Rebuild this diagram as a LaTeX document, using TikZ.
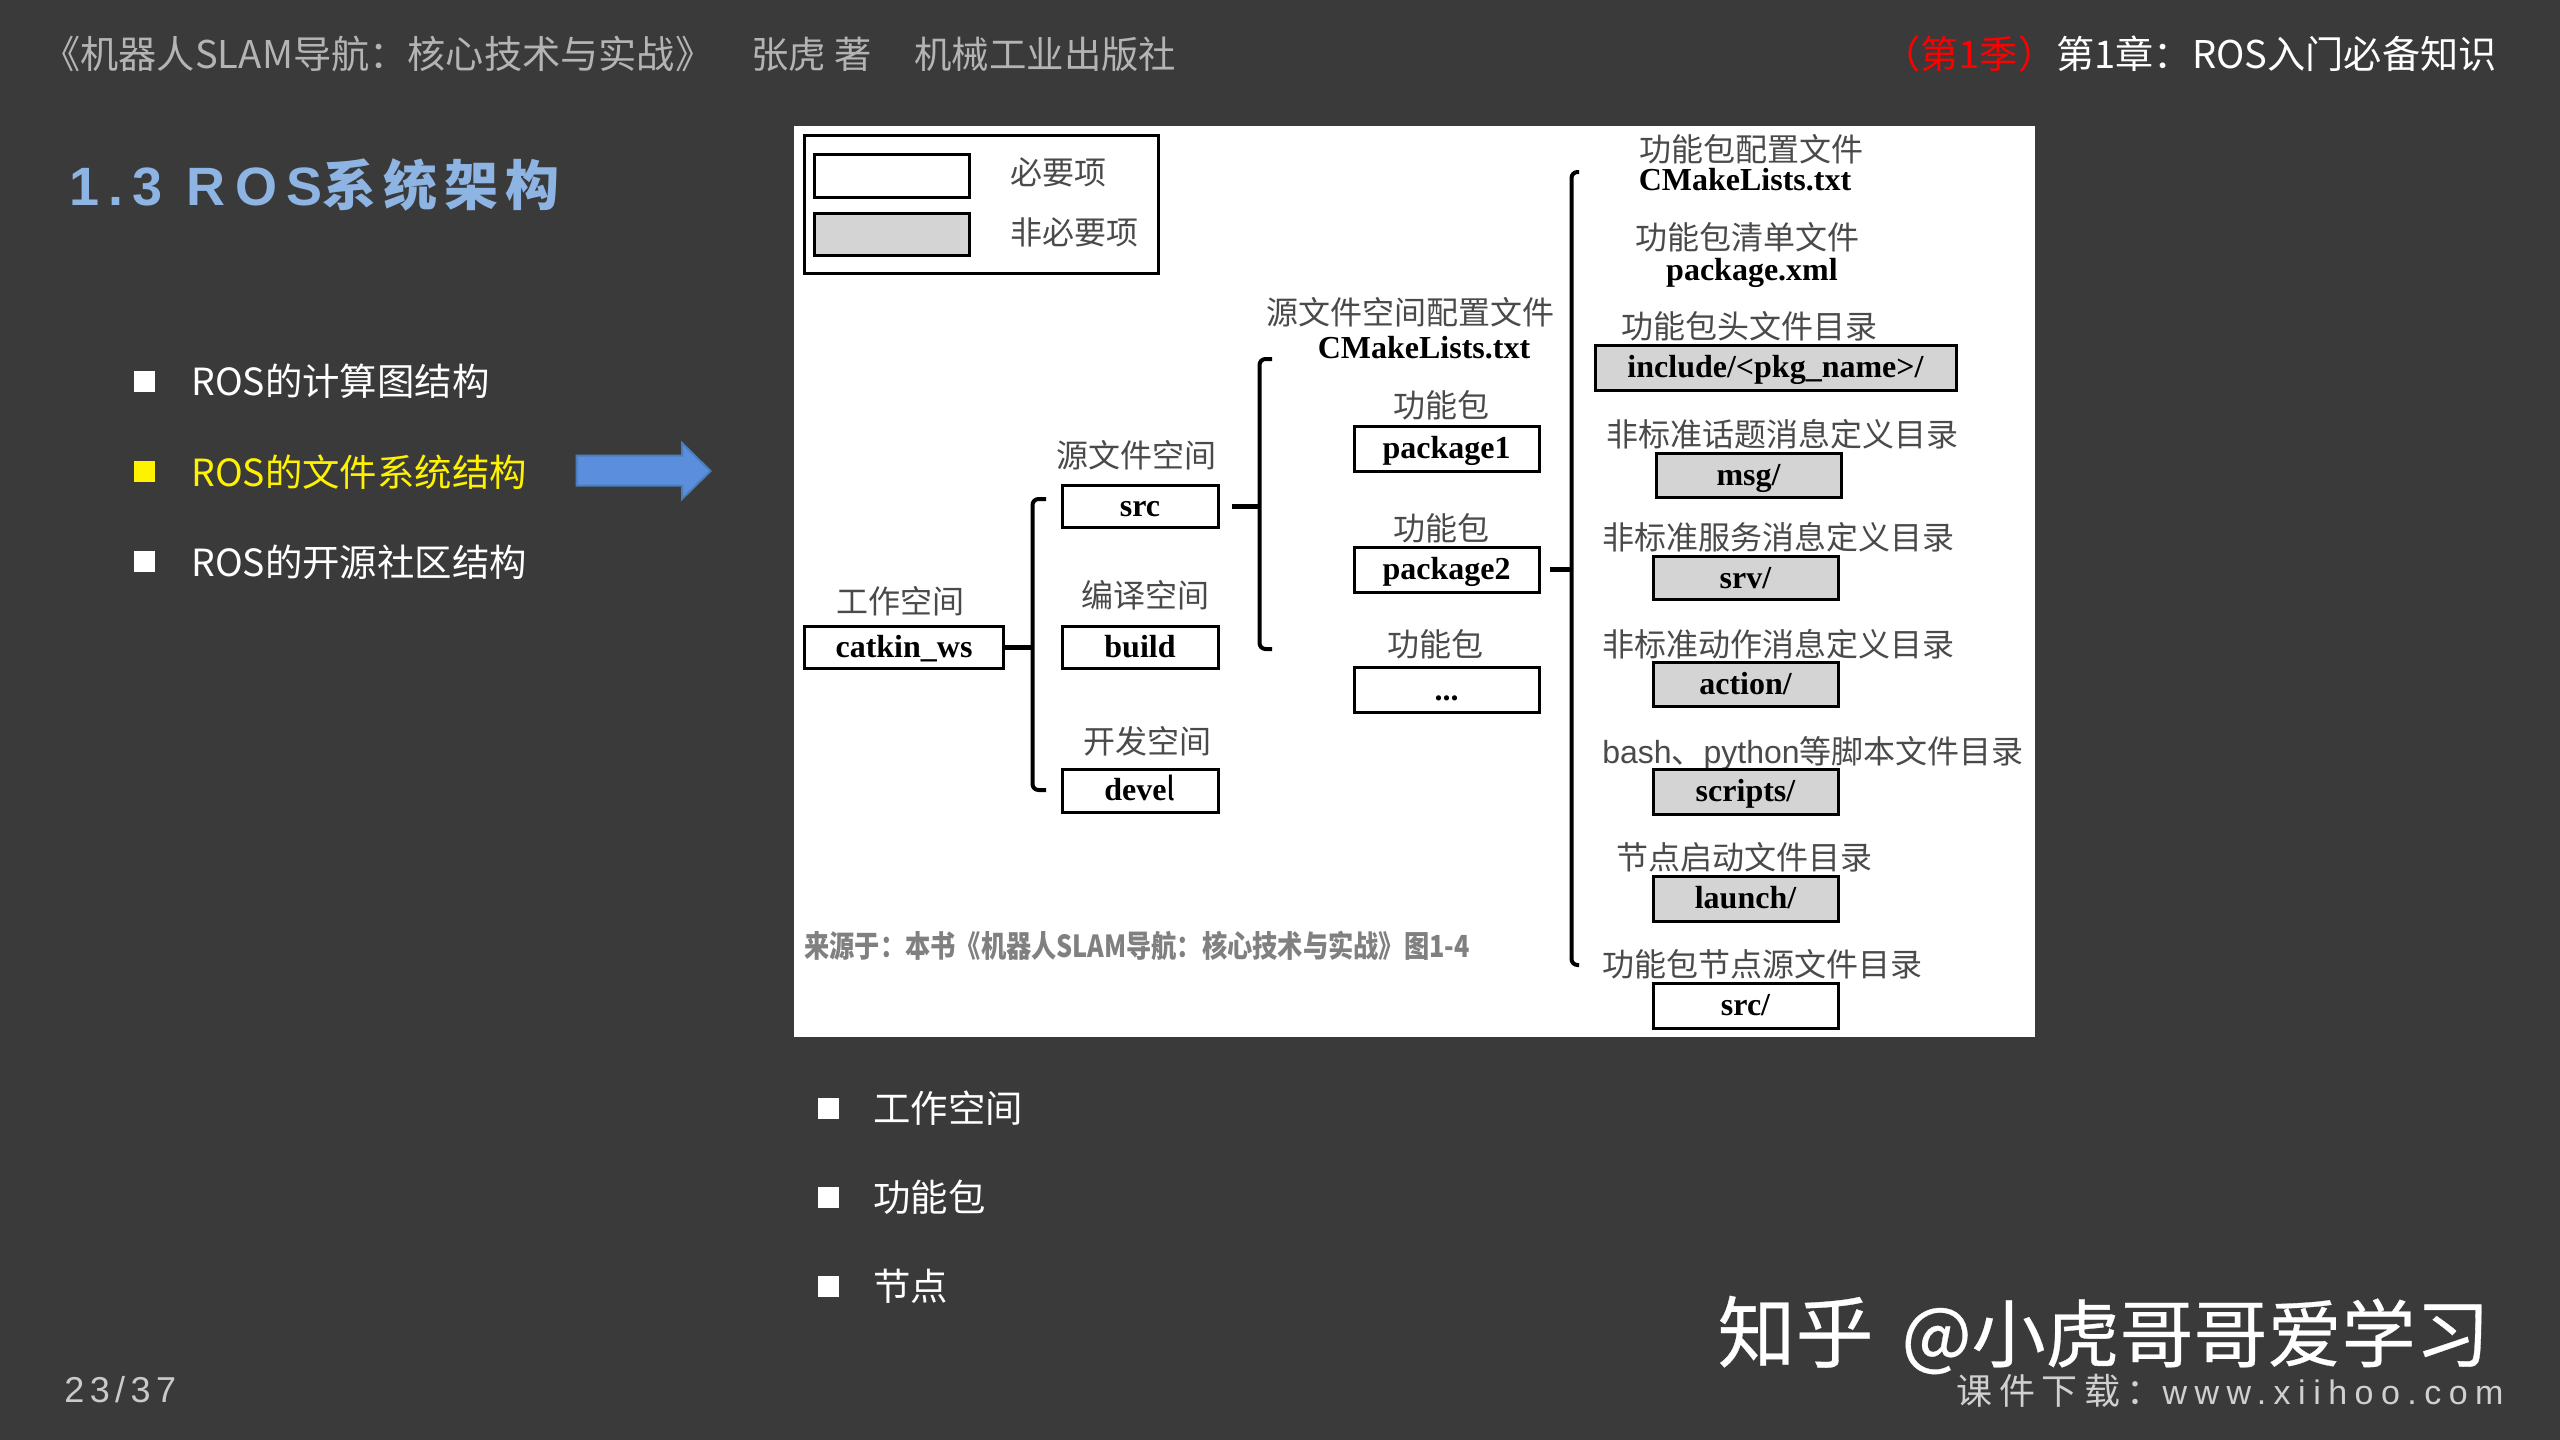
\documentclass[tikz,border=0pt]{standalone}
\usepackage{fontspec}
\setmainfont{Noto Sans CJK SC}
\newfontfamily\zhbig[LetterSpace=13]{Noto Sans CJK SC}
\newfontfamily\zhurl[LetterSpace=18]{Noto Sans CJK SC}
\newfontfamily\zhmark[FakeBold=0.4]{Noto Sans CJK SC}
\newfontfamily\enbig[LetterSpace=17]{Liberation Sans}
\newfontfamily\enfoot[LetterSpace=15]{Liberation Sans}
\newfontfamily\enurl[LetterSpace=22]{Liberation Sans}
\newfontfamily\ensans{Liberation Sans}
\newfontfamily\enserif{Liberation Serif}
\definecolor{slidebg}{HTML}{3A3A3A}
\definecolor{headgray}{HTML}{B4B4B4}
\definecolor{titleblue}{HTML}{8DB4E2}
\definecolor{arrowblue}{HTML}{5B8FDD}
\definecolor{arrowline}{HTML}{4A7EBB}
\definecolor{boxgray}{HTML}{D4D4D4}
\definecolor{scantext}{HTML}{4A4A4A}
\definecolor{srcgray}{HTML}{808080}
\definecolor{footgray}{HTML}{D0D0D0}
\tikzset{
	wbox/.style 2 args={draw=black,fill=white,line width=1.5pt,inner sep=0pt,outer sep=0pt,minimum width=#1*0.5pt,minimum height=#2*0.5pt,text height=12.5pt,text depth=2.5pt,font=\enserif\bfseries\fontsize{16pt}{18pt}\selectfont},
	gbox/.style 2 args={wbox={#1}{#2},fill=boxgray},
	zh/.style={inner sep=0pt,text=scantext,text height=13.6pt,text depth=2.4pt,font=\fontsize{16pt}{18pt}\selectfont},
	en/.style={inner sep=0pt,text=black,font=\enserif\bfseries\fontsize{16pt}{18pt}\selectfont},
	brace/.style={draw=black,line width=2pt,rounded corners=3pt},
	bul/.style={fill=#1,inner sep=0pt,minimum size=10.5pt},
	itm/.style={inner sep=0pt,anchor=west,text=#1,text height=15.3pt,text depth=2.7pt,font=\fontsize{18.7pt}{20pt}\selectfont},
	head/.style={inner sep=0pt,text=#1,text height=15.7pt,text depth=2.8pt,font=\fontsize{19.1pt}{21pt}\selectfont}
}
\begin{document}
\begin{tikzpicture}[x=0.5pt,y=-0.5pt]
	\fill[slidebg] (0,0) rectangle (2560,1440);
	\fill[white] (793.5,126) rectangle (2034.5,1037);

	\node [head=headgray,anchor=west] (book) at (42,55.5) {《机器人SLAM导航：核心技术与实战》};
	\node [head=headgray,anchor=west,font=\fontsize{18.7pt}{21pt}\selectfont] (author) at (751,55.5) {张虎 著};
	\node [head=headgray,anchor=west,font=\fontsize{18.7pt}{21pt}\selectfont] (press) at (914,55.5) {机械工业出版社};
	\node [head=white,anchor=east] (chapter) at (2497,55.5) {{\color{red}（第1季）}第1章：ROS入门必备知识};
	\node [inner sep=0pt,anchor=west,text=titleblue,font=\bfseries\fontsize{27pt}{30pt}\selectfont] (title) at (69,185) {{\enbig 1.3 ROS}{\zhbig 系统架构}};

	\node [bul=white] (d1) at (144,381) {};
	\node [bul=yellow] (d2) at (144,471.5) {};
	\node [bul=white] (d3) at (144,561.5) {};
	\node [itm=white] (t1) at (191,383) {ROS的计算图结构};
	\node [itm=yellow] (t2) at (191,473.5) {ROS的文件系统结构};
	\node [itm=white] (t3) at (191,563.5) {ROS的开源社区结构};
	\draw[arrowline,fill=arrowblue,line width=1pt]
		(576.5,455.5) -- (682,455.5) -- (682,443) -- (710.5,471) -- (682,499) -- (682,485.5) -- (576.5,485.5) -- cycle;

	\node [bul=white] (d4) at (828,1108) {};
	\node [bul=white] (d5) at (828,1197) {};
	\node [bul=white] (d6) at (828,1286) {};
	\node [itm=white] (t4) at (873,1110) {工作空间};
	\node [itm=white] (t5) at (873,1199) {功能包};
	\node [itm=white] (t6) at (873,1288) {节点};

	\node [wbox={354}{138}] (legend) at (981.5,204.5) {};
	\node [wbox={155}{43}] (must) at (891.5,175.5) {};
	\node [gbox={155}{42}] (opt) at (891.5,234) {};
	\node [zh] at (1058.5,173) {必要项};
	\node [zh] at (1074,233) {非必要项};

	\node [wbox={199}{42}] (catkin) at (904,647) {catkin\_ws};
	\node [zh] at (900,602) {工作空间};
	\node [wbox={156}{42}] (src) at (1140,506) {src};
	\node [zh] at (1136,456) {源文件空间};
	\node [wbox={156}{42}] (build) at (1140,647) {build};
	\node [zh] at (1145,596) {编译空间};
	\node [wbox={156}{43}] (devel) at (1140,790.5) {deve{\normalfont l}};
	\node [zh] at (1147,742) {开发空间};

	\coordinate (b1t) at (1046,499);
	\coordinate (b1m) at (1032.5,647);
	\coordinate (b1b) at (1046,790);
	\draw[brace] (b1t) -| (b1m) |- (b1b);
	\draw[line width=2.5pt] (catkin.east) -- (b1m);

	\coordinate (b2t) at (1272,359);
	\coordinate (b2m) at (1259.5,506);
	\coordinate (b2b) at (1272,649);
	\draw[brace] (b2t) -| (b2m) |- (b2b);
	\draw[line width=2.5pt,shorten <=7pt] (src.east) -- (b2m);

	\node [zh] at (1410.5,313) {源文件空间配置文件};
	\node [en] at (1424,348) {CMakeLists.txt};
	\node [zh] at (1441,406) {功能包};
	\node [wbox={185}{45}] (pkg1) at (1446.5,448.5) {package1};
	\node [zh] at (1441,529) {功能包};
	\node [wbox={185}{45}] (pkg2) at (1446.5,569.5) {package2};
	\node [zh] at (1435,645) {功能包};
	\node [wbox={185}{45}] (pkg3) at (1446.5,690) {...};

	\coordinate (b3t) at (1579,172);
	\coordinate (b3m) at (1571.5,569.5);
	\coordinate (b3b) at (1579,965);
	\draw[brace] (b3t) -| (b3m) |- (b3b);
	\draw[line width=2.5pt,shorten <=5.5pt] (pkg2.east) -- (b3m);

	\node [zh] at (1751,150) {功能包配置文件};
	\node [en] at (1745,180) {CMakeLists.txt};
	\node [zh] at (1747,238) {功能包清单文件};
	\node [en] at (1752,273) {package.xml};
	\node [zh] at (1749,327) {功能包头文件目录};
	\node [gbox={361}{45}] (incl) at (1775.5,367.5) {include/<pkg\_name>/};
	\node [zh] at (1782,435) {非标准话题消息定义目录};
	\node [gbox={185}{44}] (msg) at (1748.5,475) {msg/};
	\node [zh] at (1778,538) {非标准服务消息定义目录};
	\node [gbox={185}{43}] (srv) at (1745.5,578) {srv/};
	\node [zh] at (1778,645) {非标准动作消息定义目录};
	\node [gbox={185}{44}] (action) at (1745.5,684.5) {action/};
	\node [zh] at (1813,752) {{\ensans bash}、{\ensans python}等脚本文件目录};
	\node [gbox={185}{45}] (scripts) at (1745.5,791.5) {scripts/};
	\node [zh] at (1744.5,858) {节点启动文件目录};
	\node [gbox={185}{45}] (launch) at (1745.5,898.5) {launch/};
	\node [zh] at (1762.5,965) {功能包节点源文件目录};
	\node [wbox={185}{45}] (srcdir) at (1745.5,1005.5) {src/};

	\node [inner sep=0pt,anchor=west,text=srcgray,font=\bfseries\fontsize{15.2pt}{18pt}\selectfont] (cite) at (804,946) {\scalebox{0.83}[1]{来源于：本书《机器人SLAM导航：核心技术与实战》图1-4}};

	\node [inner sep=0pt,anchor=west,text=headgray!70!white,font=\enfoot\fontsize{18pt}{20pt}\selectfont] (page) at (64,1390) {23/37};
	\node [inner sep=0pt,anchor=east,text=white,font=\zhmark\fontsize{37pt}{42pt}\selectfont] (mark) at (2490,1335) {{\fontsize{39pt}{42pt}\selectfont 知乎}\hspace{14pt}@小虎哥哥爱学习};
	\node [inner sep=0pt,anchor=east,text=footgray,font=\fontsize{18pt}{20pt}\selectfont] (url) at (2504,1391) {{\zhurl 课件下载：}{\enurl\fontsize{17pt}{20pt}\selectfont www.xiihoo.com}};
\end{tikzpicture}
\end{document}
